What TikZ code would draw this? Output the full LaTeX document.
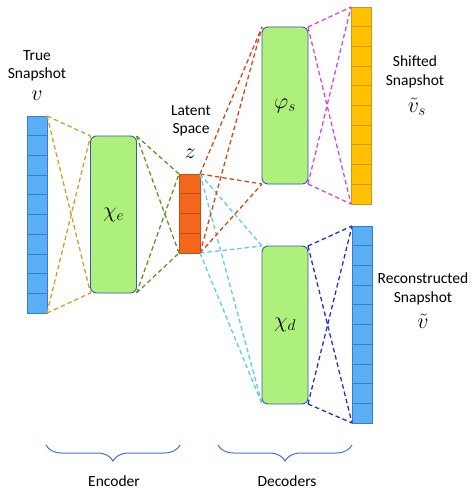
\RequirePackage{fix-cm}
\documentclass[tikz,border=0pt]{standalone}
\usepackage{fontspec}
\setmainfont{Carlito}
\usetikzlibrary{calc,decorations.pathreplacing}
\definecolor{barblue}{HTML}{5AAEF5}
\definecolor{barblueb}{HTML}{3C7CC6}
\definecolor{latfill}{HTML}{F4661B}
\definecolor{latb}{HTML}{C04E16}
\definecolor{shfill}{HTML}{FFC000}
\definecolor{shb}{HTML}{CC9A10}
\definecolor{boxfill}{HTML}{AEF07C}
\definecolor{boxb}{HTML}{3A5AA8}
\definecolor{cgold}{HTML}{C9A22A}
\definecolor{cgreen}{HTML}{5A9A22}
\definecolor{cred}{HTML}{CC4A1C}
\definecolor{ccyan}{HTML}{5CCCEA}
\definecolor{cmag}{HTML}{C94BEA}
\definecolor{cblue}{HTML}{2230CC}
\definecolor{cbrace}{HTML}{4A6FD0}
\tikzset{
  barbox/.style={draw=#1, line width=0.8pt, inner sep=0pt, outer sep=0pt, minimum width=20pt},
  netbox/.style={draw=boxb, fill=boxfill, line width=0.9pt, rounded corners=6pt, inner sep=0pt, outer sep=0pt,
    minimum width=46pt, minimum height=157pt, font=\fontsize{22}{26}\selectfont},
  conn/.style={draw=#1, dashed, line width=1.3pt, dash pattern=on 4.5pt off 3pt},
  lbl/.style={align=center, font=\fontsize{15.5}{18.5}\selectfont, inner sep=0pt},
  mlbl/.style={inner sep=0pt, font=\fontsize{22}{26}\selectfont},
  brc/.style={draw=cbrace, line width=1pt, decorate, decoration={brace, mirror, amplitude=16pt}}
}
\begin{document}
\begin{tikzpicture}[x=1pt, y=-1pt]
\useasboundingbox (0,0) rectangle (474,492);

% bars
\node[barbox=barblueb, fill=barblue, minimum height=197pt] (v) at (37,214.5) {};
\node[barbox=latb, fill=latfill, minimum width=21pt, minimum height=79pt] (z) at (189.5,213.5) {};
\node[barbox=shb, fill=shfill, minimum height=197pt] (vs) at (361,105.5) {};
\node[barbox=barblueb, fill=barblue, minimum height=197pt] (vr) at (362,324.5) {};
\foreach \i in {1,...,9}{
  \draw[barblueb, line width=0.8pt] ($(v.north west)!\i/10!(v.south west)$) -- ($(v.north east)!\i/10!(v.south east)$);
  \draw[shb, line width=0.8pt] ($(vs.north west)!\i/10!(vs.south west)$) -- ($(vs.north east)!\i/10!(vs.south east)$);
  \draw[barblueb, line width=0.8pt] ($(vr.north west)!\i/10!(vr.south west)$) -- ($(vr.north east)!\i/10!(vr.south east)$);
}
\foreach \i in {1,2,3}{
  \draw[latb, line width=0.8pt] ($(z.north west)!\i/4!(z.south west)$) -- ($(z.north east)!\i/4!(z.south east)$);
}

% network boxes
\node[netbox] (enc) at (113.5,214.5) {$\chi_e$};
\node[netbox] (phi) at (285,105.5) {$\varphi_s$};
\node[netbox, minimum height=158pt] (dec) at (285,325) {$\chi_d$};

% connectors
\foreach \a in {north east, south east}{
  \foreach \b in {north west, south west}{
    \draw[conn=cgold] (v.\a) -- (enc.\b);
    \draw[conn=cgreen] (enc.\a) -- (z.\b);
    \draw[conn=cred] (z.\a) -- (phi.\b);
    \draw[conn=ccyan] (z.\a) -- (dec.\b);
    \draw[conn=cmag] (phi.\a) -- (vs.\b);
    \draw[conn=cblue] (dec.\a) -- (vr.\b);
  }
}

% labels
\node[lbl] (tl) at (37,66) {True\\Snapshot};
\node[mlbl] (tv) at (37,96) {$v$};
\node[lbl] (ll) at (191,121) {Latent\\Space};
\node[mlbl] (lz) at (190,154) {$z$};
\node[lbl] (sl) at (415,72) {Shifted\\Snapshot};
\node[mlbl] (sv) at (417,107) {$\tilde{v}_s$};
\node[lbl] (rl) at (423,289) {Reconstructed\\Snapshot};
\node[mlbl] (rv) at (423,321) {$\tilde{v}$};

% braces
\coordinate (e1) at (46,445);
\coordinate (e2) at (180,445);
\coordinate (d1) at (218,445);
\coordinate (d2) at (352,445);
\draw[brc] (e1) -- (e2);
\draw[brc] (d1) -- (d2);
\node[lbl] (el) at (114,481) {Encoder};
\node[lbl] (dl) at (287,481) {Decoders};
\end{tikzpicture}
\end{document}
